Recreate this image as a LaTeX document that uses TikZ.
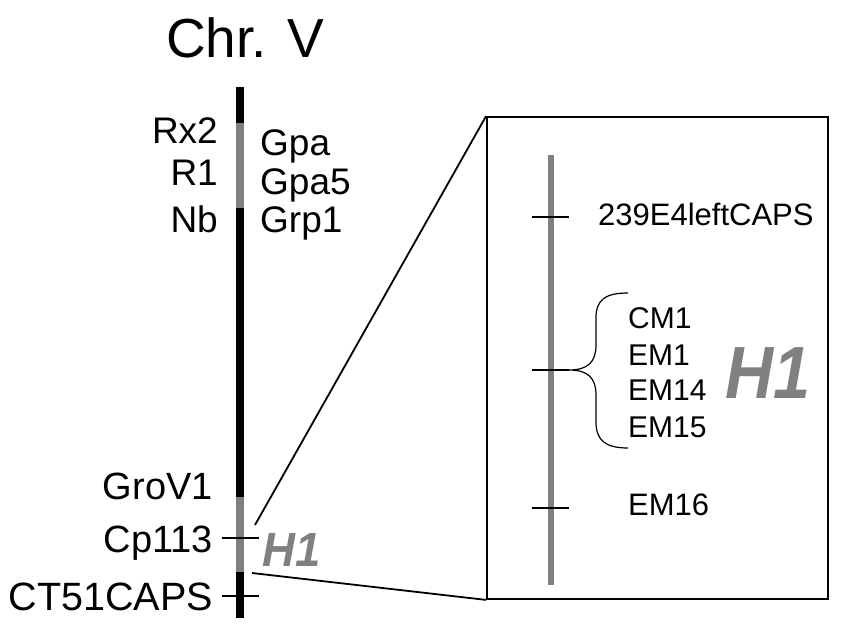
\documentclass[tikz,border=0pt]{standalone}
\usepackage{fontspec}
\setmainfont{Liberation Sans}
\begin{document}
\begin{tikzpicture}[x=1pt,y=-1pt,
  lab/.style={inner sep=0pt,font=\fontsize{38}{40}\selectfont},
  ulab/.style={inner sep=0pt,font=\fontsize{37}{40}\selectfont},
  blab/.style={inner sep=0pt,font=\fontsize{31}{33}\selectfont},
  glab/.style={inner sep=0pt,font=\fontsize{30}{32}\selectfont},
  hbig/.style={inner sep=0pt,text=stip,font=\bfseries\itshape\fontsize{74}{76}\selectfont},
  hsmall/.style={inner sep=0pt,text=stip,font=\bfseries\itshape\fontsize{48}{50}\selectfont},
  tick/.style={line width=1.8pt},
  zoomline/.style={line width=1.8pt}]
\definecolor{stip}{gray}{0.5}
\useasboundingbox (0,0) rectangle (847,626);
% title
\node[inner sep=0pt,anchor=base,font=\fontsize{55}{58}\selectfont] (title) at (245,58) {Chr. V};
% main chromosome bar
\fill[black] (236,87) rectangle (244,123);
\fill[stip] (236,123) rectangle (244,208);
\fill[black] (236,208) rectangle (244,497);
\fill[stip] (236,497) rectangle (244,572);
\fill[black] (236,572) rectangle (244,618);
% upper labels
\node[ulab,anchor=base east] (rx2) at (218,143) {Rx2};
\node[ulab,anchor=base east] (r1) at (218,185) {R1};
\node[ulab,anchor=base east] (nb) at (218,232) {Nb};
\node[ulab,anchor=base west] (gpa) at (260,155) {Gpa};
\node[ulab,anchor=base west] (gpa5) at (260,194) {Gpa5};
\node[ulab,anchor=base west] (grp1) at (260,232) {Grp1};
% lower labels
\node[lab,anchor=base east] (grov1) at (213,499) {GroV1};
\node[lab,anchor=base east] (cp113) at (213,552) {Cp113};
\node[lab,anchor=base east,font=\fontsize{39.5}{42}\selectfont] (ct51) at (213,610) {CT51CAPS};
\coordinate (cpL) at (222,538); \coordinate (cpR) at (259,538);
\coordinate (ctL) at (222,596); \coordinate (ctR) at (259,596);
\draw[tick] (cpL) -- (cpR);
\draw[tick] (ctL) -- (ctR);
\node[hsmall,anchor=base west] (hs) at (262,566) {\scalebox{0.95}[1]{H1}};
% zoom box
\node[draw,line width=1.8pt,minimum width=341pt,minimum height=482pt,inner sep=0pt] (box) at (657.5,358) {};
\coordinate (zt) at (255,525);
\coordinate (zb) at (252,573);
\draw[zoomline] (zt) -- (box.north west);
\draw[zoomline] (zb) -- (box.south west);
% inner bar
\fill[stip] (548,155) rectangle (554,585);
% ticks in box
\coordinate (t1L) at (532,217); \coordinate (t1R) at (569,217);
\coordinate (t2L) at (532,370); \coordinate (t2R) at (569,370);
\coordinate (t3L) at (532,508); \coordinate (t3R) at (569,508);
\draw[tick] (t1L) -- (t1R);
\draw[tick] (t3L) -- (t3R);
\draw[line width=1.2pt] (t2L) -- (t2R);
\coordinate (brT) at (628,293);
\coordinate (brB) at (628,448);
\draw[line width=1.2pt] (brT) .. controls (605,293) and (596,300) .. (596,318)
  -- (596,345) .. controls (596,362) and (588,370) .. (t2R)
  .. controls (588,370) and (596,378) .. (596,395)
  -- (596,422) .. controls (596,440) and (605,448) .. (brB);
\node[blab,anchor=base west] (e239) at (598,225) {239E4leftCAPS};
\node[glab,anchor=base west] (cm1) at (628,328) {CM1};
\node[glab,anchor=base west] (em1) at (628,365) {EM1};
\node[glab,anchor=base west] (em14) at (628,400) {EM14};
\node[glab,anchor=base west] (em15) at (628,437) {EM15};
\node[blab,anchor=base west] (em16) at (628,515) {EM16};
\node[hbig,anchor=base west] (hb) at (725,398) {\scalebox{0.9}[1]{H1}};
\end{tikzpicture}
\end{document}
